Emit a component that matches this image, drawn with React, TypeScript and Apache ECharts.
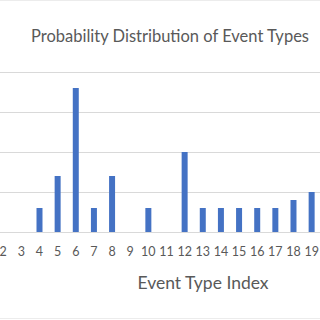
import React, { useEffect, useRef } from "react";
import * as echarts from "echarts";

// Event type indices shown on the category axis
const eventTypes = ["1", "2", "3", "4", "5", "6", "7", "8", "9", "10", "11", "12", "13", "14", "15", "16", "17", "18", "19", "20"];
// Probability of each event type
const probabilities = [0, 0, 0, 0.03, 0.07, 0.18, 0.03, 0.07, 0, 0.03, 0, 0.1, 0.03, 0.03, 0.03, 0.03, 0.03, 0.04, 0.05, 0.05];

const TEXT = "#595959";
const FONT = "Lato, 'Open Sans', sans-serif";
// The chart canvas starts left of the page so the first and last categories fall off the edges
const SHIFT = 24;

export default function App() {
  const ref = useRef<HTMLDivElement>(null);

  useEffect(() => {
    if (!ref.current) return;
    const chart = echarts.init(ref.current, null, { renderer: "svg" });
    chart.setOption({
      animation: false,
      backgroundColor: "#ffffff",
      title: [
        {
          text: "Probability Distribution of Event Types",
          left: 165 + SHIFT,
          textAlign: "center",
          top: 22,
          textStyle: { color: TEXT, fontFamily: FONT, fontSize: 16.5, fontWeight: "normal" },
        },
        {
          text: "Event Type Index",
          left: 198 + SHIFT,
          textAlign: "center",
          top: 268,
          textStyle: { color: TEXT, fontFamily: FONT, fontSize: 17.5, fontWeight: "normal" },
        },
      ],
      grid: { left: 0, right: 0, top: 72, bottom: 88, containLabel: false },
      xAxis: {
        type: "category",
        data: eventTypes,
        axisLine: { lineStyle: { color: "#d9d9d9", width: 1 } },
        axisTick: { show: false },
        axisLabel: { color: TEXT, fontFamily: FONT, fontSize: 12.5, margin: 13, interval: 0 },
      },
      yAxis: {
        type: "value",
        min: 0,
        max: 0.2,
        interval: 0.05,
        axisLabel: { show: false },
        axisLine: { show: false },
        axisTick: { show: false },
        splitLine: { lineStyle: { color: "#d9d9d9", width: 1 } },
      },
      series: [
        {
          type: "bar",
          data: probabilities,
          barWidth: 6,
          itemStyle: { color: "#4472C4" },
        },
      ],
      graphic: [
        { type: "line", shape: { x1: 0, y1: 0.5, x2: 364, y2: 0.5 }, style: { stroke: "#ececec", lineWidth: 1 } },
        { type: "line", shape: { x1: 0, y1: 318.5, x2: 364, y2: 318.5 }, style: { stroke: "#ececec", lineWidth: 1 } },
      ],
    });
    return () => chart.dispose();
  }, []);

  return (
    <div
      ref={ref}
      style={{ position: "fixed", left: -SHIFT, top: 0, width: 364, height: 320 }}
    />
  );
}
